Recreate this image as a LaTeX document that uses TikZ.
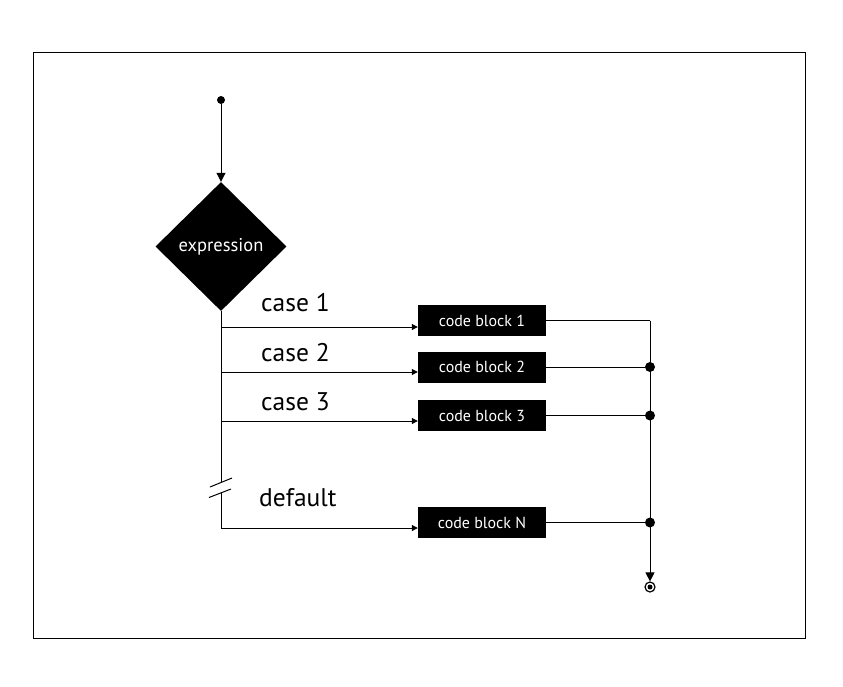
\documentclass[tikz,border=0pt]{standalone}
\usepackage{fontspec}
\setmainfont{PT Sans}
\usetikzlibrary{shapes.geometric,arrows.meta}
\begin{document}
\begin{tikzpicture}[x=1pt,y=-1pt,
  line/.style={line width=1pt, draw=black},
  bigarrow/.style={line, -{Triangle[length=9pt,width=9pt]}},
  smallarrow/.style={line, -{Triangle[length=6pt,width=6pt]}},
  codebox/.style={fill=black, text=white, minimum width=128pt, minimum height=31pt, inner sep=0, font=\fontsize{16}{18}\selectfont},
  caselabel/.style={font=\fontsize{25.5}{28}\selectfont, inner sep=0, anchor=west},
  jdot/.style={circle, fill=black, inner sep=0, minimum size=10pt}]
\useasboundingbox (0,0) rectangle (843,686);
\draw[line width=0.8pt] (33,52) rectangle (805,638);
% start
\node[circle, fill=black, inner sep=0, minimum size=8pt] (start) at (221,100) {};
\node[diamond, fill=black, text=white, inner sep=0, minimum width=131pt, minimum height=129pt, font=\fontsize{18.5}{20}\selectfont] (expr) at (221,246.5) {expression};
\draw[bigarrow] (start) -- (expr.north);
% code blocks
\node[codebox] (box1) at (482,320.5) {code block 1};
\node[codebox] (box2) at (482,367) {code block 2};
\node[codebox] (box3) at (482,415.5) {code block 3};
\node[codebox] (boxN) at (482,522.5) {code block N};
% branch coordinates
\coordinate (b1) at (221,327);
\coordinate (b2) at (221,372);
\coordinate (b3) at (221,421);
\coordinate (gapA) at (221,482);
\coordinate (gapB) at (221,493);
\coordinate (bN) at (221,528);
\draw[line] (expr.south) -- (gapA);
\draw[line] (gapB) -- (bN);
\draw[line] (210,487) -- (232,478);
\draw[line] (209,497.5) -- (231,489);
\draw[smallarrow] (b1) -- (b1 -| box1.west);
\draw[smallarrow] (b2) -- (b2 -| box2.west);
\draw[smallarrow] (b3) -- (b3 -| box3.west);
\draw[smallarrow] (bN) -- (bN -| boxN.west);
% labels
\node[caselabel] (l1) at (261,303) {case 1};
\node[caselabel] (l2) at (261,353) {case 2};
\node[caselabel] (l3) at (261,402) {case 3};
\node[caselabel] (l4) at (259,498) {default};
% right collector
\coordinate (r1) at (650,320.5);
\node[jdot] (j2) at (650,367) {};
\node[jdot] (j3) at (650,415.5) {};
\node[jdot] (jN) at (650,522.5) {};
\node[circle, draw=black, line width=1.2pt, inner sep=0, minimum size=10pt] (endc) at (650,587) {};
\node[circle, fill=black, inner sep=0, minimum size=5pt] (endd) at (650,587) {};
\draw[line] (box1.east) -- (r1);
\draw[line] (box2.east) -- (j2);
\draw[line] (box3.east) -- (j3);
\draw[line] (boxN.east) -- (jN);
\draw[bigarrow] (r1) -- (endc.north);
\end{tikzpicture}
\end{document}
